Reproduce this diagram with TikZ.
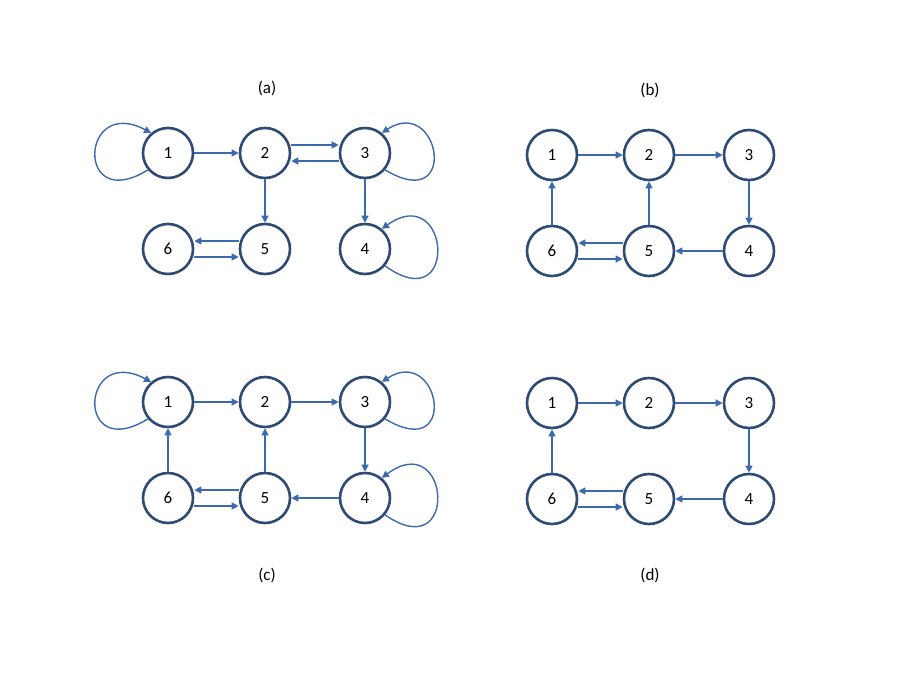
\documentclass[tikz,border=0pt]{standalone}
\usepackage{fontspec}
\setmainfont{Carlito}
\usetikzlibrary{arrows.meta}
\definecolor{ring}{HTML}{2F4A75}
\definecolor{edge}{HTML}{3D6AAE}
\begin{document}
\begin{tikzpicture}[x=1pt,y=-1pt,
  vtx/.style={circle,draw=ring,line width=2.6pt,minimum size=50pt,inner sep=0pt,font=\fontsize{17}{17}\selectfont,fill=white},
  arr/.style={draw=edge,line width=1.4pt,-{Triangle[length=7pt,width=7pt]}},
  capt/.style={font=\fontsize{17}{17}\selectfont}]
\useasboundingbox (0,0) rectangle (900,675);
\newcommand{\panel}[3]{%
  \begin{scope}[shift={(#1,#2)}]
  \node[vtx] (#3-1) at (0,0) {1};
  \node[vtx] (#3-2) at (97,0) {2};
  \node[vtx] (#3-3) at (197,0) {3};
  \node[vtx] (#3-6) at (0,96) {6};
  \node[vtx] (#3-5) at (97,96) {5};
  \node[vtx] (#3-4) at (197,96) {4};
  \draw[arr] ([yshift=-8pt]#3-6.east) coordinate (#3-u6) -- (#3-u6 -| #3-5.west);
  \draw[arr] ([yshift=8pt]#3-5.west) coordinate (#3-l5) -- (#3-l5 -| #3-6.east);
  \end{scope}}
% (a)
\panel{168}{153}{a}
\draw[arr] (a-1) -- (a-2);
\draw[arr] (a-2) -- (a-5);
\draw[arr] (a-3) -- (a-4);
\draw[arr] ([yshift=-8pt]a-3.west) coordinate (a-t3) -- (a-t3 -| a-2.east);
\draw[arr] ([yshift=8pt]a-2.east) coordinate (a-t2) -- (a-t2 -| a-3.west);
\draw[arr] (a-1.220) .. controls (75,215) and (80,95) .. (a-1.130);
\draw[arr] (a-3.-40) .. controls (460,215) and (440,95) .. (a-3.50);
\draw[arr] (a-4.-40) .. controls (460,320) and (450,180) .. (a-4.50);
\node[capt] (la) at (267,88) {(a)};
% (b)
\panel{552}{155}{b}
\draw[arr] (b-1) -- (b-2);
\draw[arr] (b-2) -- (b-3);
\draw[arr] (b-3) -- (b-4);
\draw[arr] (b-4) -- (b-5);
\draw[arr] (b-6) -- (b-1);
\draw[arr] (b-5) -- (b-2);
\node[capt] (lb) at (650,90) {(b)};
% (c)
\panel{168}{402}{c}
\draw[arr] (c-1) -- (c-2);
\draw[arr] (c-2) -- (c-3);
\draw[arr] (c-3) -- (c-4);
\draw[arr] (c-4) -- (c-5);
\draw[arr] (c-6) -- (c-1);
\draw[arr] (c-5) -- (c-2);
\draw[arr] (c-1.220) .. controls (75,464) and (80,344) .. (c-1.130);
\draw[arr] (c-3.-40) .. controls (460,464) and (440,344) .. (c-3.50);
\draw[arr] (c-4.-40) .. controls (460,567) and (450,427) .. (c-4.50);
\node[capt] (lc) at (267,575) {(c)};
% (d)
\panel{552}{403}{d}
\draw[arr] (d-1) -- (d-2);
\draw[arr] (d-2) -- (d-3);
\draw[arr] (d-3) -- (d-4);
\draw[arr] (d-4) -- (d-5);
\draw[arr] (d-6) -- (d-1);
\node[capt] (ld) at (650,575) {(d)};
\end{tikzpicture}
\end{document}
